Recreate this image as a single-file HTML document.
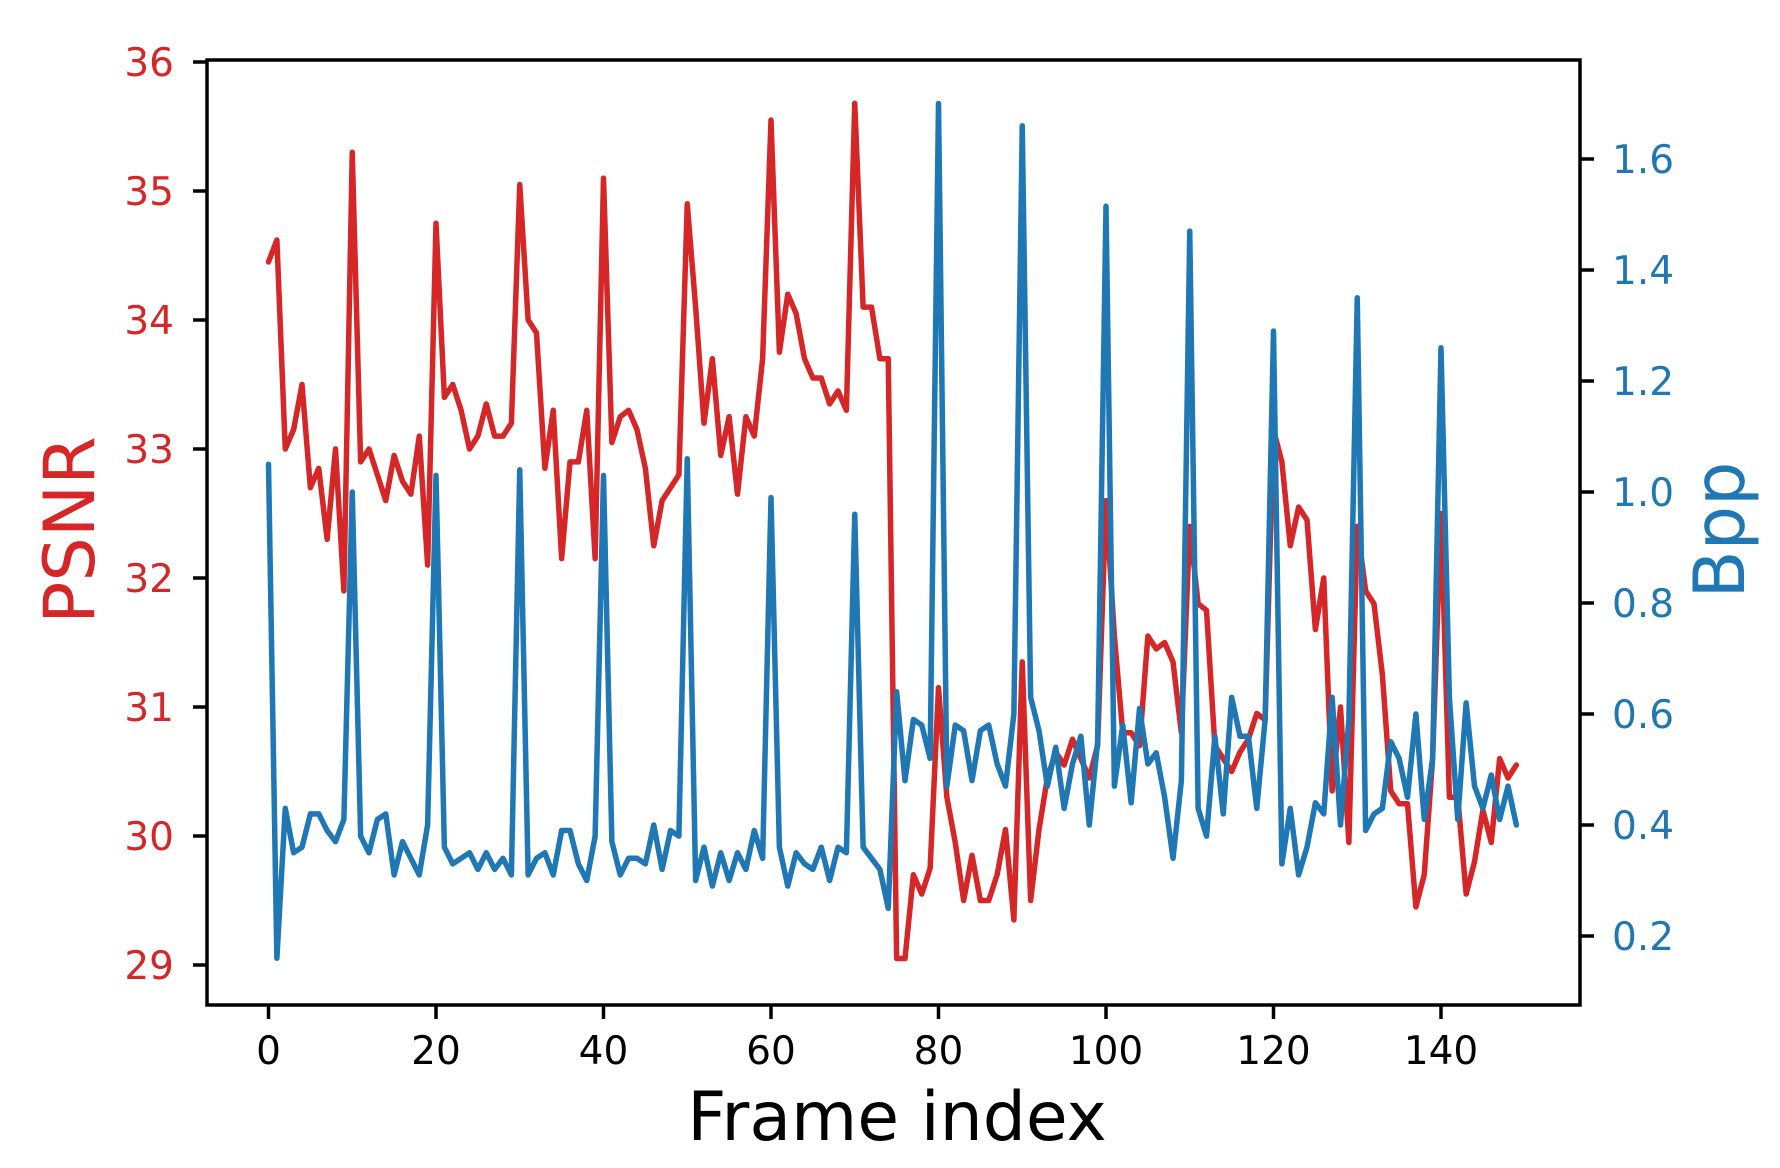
<!DOCTYPE html>
<html><head><meta charset="utf-8"><style>
html,body{margin:0;padding:0;background:#fff;}
svg{display:block;font-family:"DejaVu Sans","Liberation Sans",sans-serif;}
</style></head><body>
<svg id="chart" width="1780" height="1168" viewBox="0 0 1780 1168" xmlns="http://www.w3.org/2000/svg">
<rect width="1780" height="1168" fill="#fff"/>
<g id="plot"></g>
<g id="axes"></g>
</svg>
<script>
const psnr = [34.45,34.62,33.0,33.15,33.5,32.7,32.85,32.3,33.0,31.9,
35.3,32.9,33.0,32.8,32.6,32.95,32.75,32.65,33.1,32.1,
34.75,33.4,33.5,33.3,33.0,33.1,33.35,33.1,33.1,33.2,
35.05,34.0,33.9,32.85,33.3,32.15,32.9,32.9,33.3,32.15,
35.1,33.05,33.25,33.3,33.15,32.85,32.25,32.6,32.7,32.8,
34.9,34.1,33.2,33.7,32.95,33.25,32.65,33.25,33.1,33.7,
35.55,33.75,34.2,34.05,33.7,33.55,33.55,33.35,33.45,33.3,
35.68,34.1,34.1,33.7,33.7,29.05,29.05,29.7,29.55,29.75,
31.15,30.3,29.95,29.5,29.85,29.5,29.5,29.7,30.05,29.35,
31.35,29.5,30.05,30.45,30.65,30.55,30.75,30.6,30.45,30.7,
32.6,31.55,30.8,30.8,30.7,31.55,31.45,31.5,31.35,30.8,
32.4,31.8,31.75,30.7,30.6,30.5,30.65,30.75,30.95,30.9,
33.15,32.9,32.25,32.55,32.45,31.6,32.0,30.35,31.0,29.95,
32.4,31.9,31.8,31.25,30.35,30.25,30.25,29.45,29.7,30.6,
32.5,30.3,30.3,29.55,29.8,30.2,29.95,30.6,30.45,30.55];
const bpp = [1.05,0.16,0.43,0.35,0.36,0.42,0.42,0.39,0.37,0.41,
1.0,0.38,0.35,0.41,0.42,0.31,0.37,0.34,0.31,0.40,
1.03,0.36,0.33,0.34,0.35,0.32,0.35,0.32,0.34,0.31,
1.04,0.31,0.34,0.35,0.31,0.39,0.39,0.33,0.30,0.38,
1.03,0.37,0.31,0.34,0.34,0.33,0.40,0.32,0.39,0.38,
1.06,0.30,0.36,0.29,0.35,0.30,0.35,0.32,0.39,0.34,
0.99,0.36,0.29,0.35,0.33,0.32,0.36,0.30,0.36,0.35,
0.96,0.36,0.34,0.32,0.25,0.64,0.48,0.59,0.58,0.52,
1.70,0.47,0.58,0.57,0.48,0.57,0.58,0.51,0.47,0.60,
1.66,0.63,0.57,0.47,0.54,0.43,0.51,0.56,0.40,0.55,
1.515,0.47,0.58,0.44,0.61,0.51,0.53,0.45,0.34,0.48,
1.47,0.43,0.38,0.56,0.42,0.63,0.56,0.56,0.43,0.59,
1.29,0.33,0.43,0.31,0.36,0.44,0.42,0.63,0.40,0.59,
1.35,0.39,0.42,0.43,0.55,0.52,0.45,0.60,0.41,0.52,
1.26,0.63,0.41,0.62,0.47,0.43,0.49,0.41,0.47,0.40];
const xTicks = [0,20,40,60,80,100,120,140];
const psnrTicks = [29,30,31,32,33,34,35,36];
const bppTicks = [0.2,0.4,0.6,0.8,1.0,1.2,1.4,1.6];

const L=207,R=1580,T=60,B=1005;
const RED="#d62728",BLUE="#1f77b4";
function xs(i){return 268.5+i*8.375;}
function yP(v){return 965-(v-29)*129;}
function yB(v){return 159+(1.6-v)/0.2*111;}
const NS="http://www.w3.org/2000/svg";
const plot=document.getElementById('plot'), axes=document.getElementById('axes');
function mk(tag,attrs,parent){const e=document.createElementNS(NS,tag);for(const k in attrs)e.setAttribute(k,attrs[k]);parent.appendChild(e);return e;}

function line(vals,yf,color,name){
  const d=vals.map((v,i)=>(i?'L':'M')+xs(i).toFixed(2)+' '+yf(v).toFixed(2)).join(' ');
  const p=mk('path',{d:d,fill:'none',stroke:color,'stroke-width':5.5,'stroke-linejoin':'round','stroke-linecap':'round'},plot);
  
  
}
line(psnr,yP,RED,'psnr-line');
line(bpp,yB,BLUE,'bpp-line');

const fr=mk('rect',{x:L,y:T,width:R-L,height:B-T,fill:'none',stroke:'#000','stroke-width':3.5},axes);



xTicks.forEach(t=>{
  const x=xs(t);
  const tk=mk('line',{x1:x,x2:x,y1:B,y2:B+14,stroke:'#000','stroke-width':3.5},axes);
  
  
  const tx=mk('text',{x:x,y:1064,'font-size':39,'text-anchor':'middle',fill:'#000'},axes);
  tx.textContent=t;
  
  
});
psnrTicks.forEach(t=>{
  const y=yP(t);
  const tk=mk('line',{x1:L-14,x2:L,y1:y,y2:y,stroke:'#000','stroke-width':3.5},axes);
  
  
  const tx=mk('text',{x:174,y:y+14,'font-size':39,'text-anchor':'end',fill:RED},axes);
  tx.textContent=t;
  
  
});
bppTicks.forEach(t=>{
  const y=yB(t);
  const tk=mk('line',{x1:R,x2:R+14,y1:y,y2:y,stroke:'#000','stroke-width':3.5},axes);
  
  
  const tx=mk('text',{x:1612,y:y+14,'font-size':39,'text-anchor':'start',fill:BLUE},axes);
  tx.textContent=t.toFixed(1);
  
  
});
</script>
<svg style="position:absolute;left:0;top:0;pointer-events:none" width="1780" height="1168" xmlns="http://www.w3.org/2000/svg">
<text x="897" y="1140" font-size="68" text-anchor="middle" fill="#000" font-family="DejaVu Sans, Liberation Sans, sans-serif">Frame index</text>
<text transform="translate(94,530) rotate(-90)" font-size="70" text-anchor="middle" fill="#d62728" font-family="DejaVu Sans, Liberation Sans, sans-serif">PSNR</text>
<text transform="translate(1744,530) rotate(-90)" font-size="70" text-anchor="middle" fill="#1f77b4" font-family="DejaVu Sans, Liberation Sans, sans-serif">Bpp</text>
</svg>
</body></html>
